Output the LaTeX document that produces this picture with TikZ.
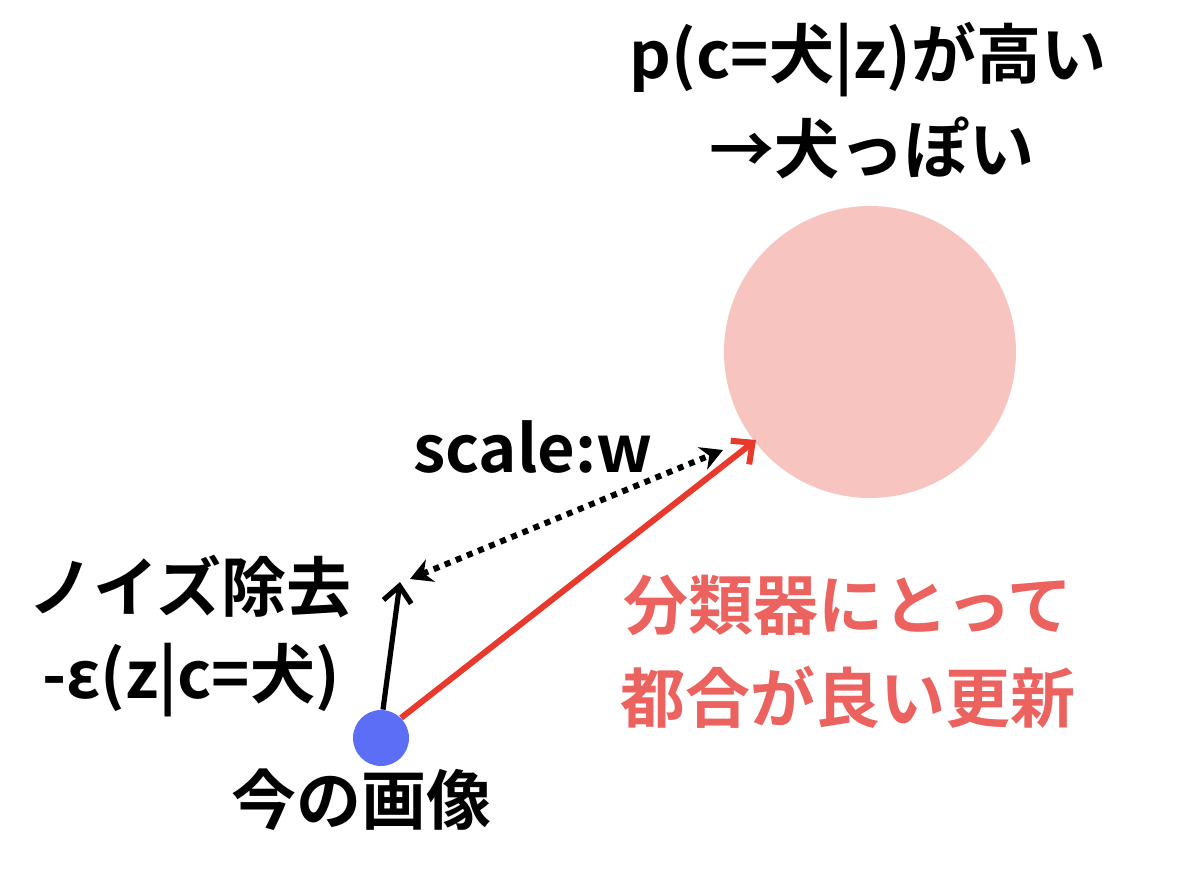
\documentclass[tikz,border=0pt]{standalone}
\usepackage{fontspec}
\setmainfont{Noto Sans CJK JP}[BoldFont=* Bold]
\usetikzlibrary{arrows.meta}
\definecolor{pinkc}{HTML}{F7C4C0}
\definecolor{bluec}{HTML}{5B6EF5}
\definecolor{redl}{HTML}{E8392D}
\definecolor{redt}{HTML}{EB625E}
\tikzset{
  lbl/.style={font=\fontsize{32.5}{39}\selectfont\bfseries, inner sep=0pt, align=center},
  blackarrow/.style={line width=2.6pt, -{Straight Barb[length=8pt,width=14pt,line width=2.6pt]}},
  redarrow/.style={draw=redl, line width=3pt, -{Straight Barb[length=8pt,width=15pt,line width=3pt]}},
  dotarrow/.style={line width=3pt, dash pattern=on 3pt off 3pt, {Stealth[length=11pt,width=12pt]}-{Stealth[length=11pt,width=12pt]}}
}
\begin{document}
\begin{tikzpicture}[x=0.5pt,y=-0.5pt]
\useasboundingbox (0,0) rectangle (1200,889);
\node[circle, fill=pinkc, minimum size=292*0.5pt, inner sep=0pt] (target) at (870,352) {};
\node[circle, fill=bluec, minimum size=56*0.5pt, inner sep=0pt] (now) at (381,738) {};
\node[lbl] (top1) at (868,60) {p(c=犬|z)が高い};
\node[lbl] (top2) at (872,148) {→犬っぽい};
\node[lbl] (scale) at (533,447) {scale:w};
\node[lbl] (noise) at (190,587) {ノイズ除去};
\node[lbl] (eps) at (191,680) {-ε(z|c=犬)};
\node[lbl, text=redt] (cls1) at (848,605) {分類器にとって};
\node[lbl, text=redt] (cls2) at (848,697) {都合が良い更新};
\node[lbl] (img) at (361,800) {今の画像};
\coordinate (ntip) at (400,582);
\coordinate (dA) at (410,579);
\coordinate (dB) at (723,450);
\coordinate (rtip) at (756,440);
\draw[blackarrow] (now.north) ++(2,0) -- (ntip);
\draw[redarrow] (now.45) -- (rtip);
\draw[dotarrow] (dA) -- (dB);
\end{tikzpicture}
\end{document}
